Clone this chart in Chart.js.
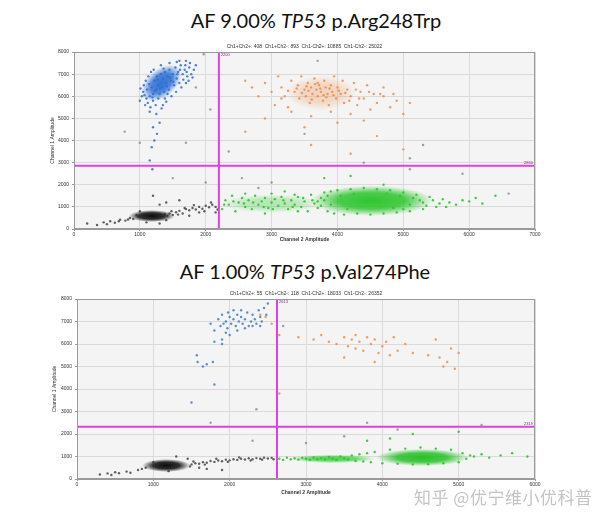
<!DOCTYPE html>
<html>
<head>
<meta charset="utf-8">
<script src="https://cdn.jsdelivr.net/npm/chart.js@4/dist/chart.umd.min.js"></script>
<style>
  body { margin: 0; width: 600px; height: 520px; background: #fff; position: relative; overflow: hidden; }
  .title { position: absolute; width: 400px; text-align: center; font-family: Lato, "Open Sans", sans-serif; font-size: 20px; line-height: 20px; color: #111; white-space: nowrap; }
  canvas { position: absolute; }
  .mark { position: absolute; left: 414px; top: 484px; font-family: "Noto Sans CJK SC", sans-serif; font-size: 17px; color: #c4c4c4; letter-spacing: 0.5px; }
</style>
</head>
<body>
<div class="title" style="left:116px; top:10px;">AF 9.00% <i>TP53</i> p.Arg248Trp</div>
<div class="title" style="left:105px; top:261px;">AF 1.00% <i>TP53</i> p.Val274Phe</div>
<canvas id="af9" width="515" height="205" style="left:30px; top:38px;"></canvas>
<canvas id="af1" width="515" height="210" style="left:30px; top:286px;"></canvas>
<div class="mark">知乎 @优宁维小优科普</div>
<script>
// axis ticks
const yTicks = [0, 1000, 2000, 3000, 4000, 5000, 6000, 7000, 8000];
const af9XTicks = [0, 1000, 2000, 3000, 4000, 5000, 6000, 7000];
const af1XTicks = [0, 1000, 2000, 3000, 4000, 5000, 6000];

// AF 9.00% droplets [Channel 2, Channel 1]
const af9Counts = "Ch1+Ch2+: 408  Ch1+Ch2-: 893  Ch1-Ch2+: 10885  Ch1-Ch2-: 25022";
const af9Thresh = [2200, 2860]; // [channel 2, channel 1]
const af9ThreshLabels = ["2200", "2860"];
const af9BlueCore = [[1330, 6600]];
const af9OrangeCore = [[3750, 6150]];
const af9BlackCore = [[1180, 590]];
const af9GreenCore = [[4520, 1280]];
const af9GreenBand = [[3000, 1150]];
const af9Blue = [[1050,6200],[1100,5900],[1150,6000],[1180,6400],[1200,6100],[1220,6700],[1250,6300],[1260,6900],[1280,6500],[1300,6100],
  [1320,7000],[1340,6400],[1350,6800],[1370,6200],[1380,7100],[1400,6600],[1420,6900],[1440,6300],[1450,7200],[1470,6700],
  [1500,7000],[1520,6500],[1540,7300],[1560,6800],[1580,7100],[1600,6600],[1620,7400],[1650,7000],[1680,7200],[1700,7600],
  [1720,6900],[1750,7300],[1780,7000],[1120,5700],[1160,5500],[1200,5800],[1240,5600],[1280,5900],[1060,6500],[1090,6700],
  [1130,6900],[1170,7100],[1210,7200],[1380,5900],[1420,6100],[1480,6000],[1550,6200],[1630,6400],[1700,6600],[1000,5800],
  [1250,5200],[1300,4800],[1200,4600],[1260,4300],[1220,4000],[1180,3700],[1150,3100],[1190,2700],[1320,7400],[1450,7500],
  [1030,6000],[1080,5600],[1110,6300],[1150,5300],[1600,7600],[1760,7500],[1820,7200],[1350,5600],[1010,6350],[1070,6050],
  [1140,6550],[1190,5950],[1230,6250],[1270,6750],[1310,6350],[1360,7250],[1410,6450],[1460,6850],[1510,6650],[1570,7000],
  [1610,7200],[1660,6750],[1710,7100],[1740,6700],[1800,6850],[1850,7400],[1690,7400],[1560,7550],[1400,5750],[1330,5450]];
const af9Orange = [[2600,6700],[2700,6400],[2800,6000],[2900,6600],[3000,6200],[3050,5600],[3100,6900],[3150,6400],[3200,6000],[3250,5500],
  [3300,6700],[3350,6200],[3400,6500],[3420,5900],[3450,6900],[3500,6300],[3520,6000],[3550,6600],[3580,5700],[3600,6400],
  [3620,6100],[3650,6800],[3680,6300],[3700,6000],[3720,6500],[3750,6200],[3780,5800],[3800,6700],[3820,6400],[3850,6100],
  [3870,5600],[3900,6500],[3920,6200],[3950,6900],[3980,5900],[4000,6400],[4050,6100],[4080,6700],[4100,5700],[4150,6300],
  [4200,6000],[4250,6600],[4300,5600],[4350,6200],[4400,5900],[4450,6500],[4500,5400],[4550,6100],[4600,5700],[4700,6000],
  [4800,5500],[4900,5800],[5000,5200],[4200,5200],[3900,5300],[3600,5100],[4000,4800],[4400,4900],[3500,4600],[5100,5700],
  [4700,6400],[3300,5300],[2600,4400],[3600,3800],[4200,3400],[4600,4200],[5000,3600],[2900,5000],[3700,6600],[3560,6250],
  [3460,6150],[3530,6450],[3610,5850],[3660,6550],[3740,6350],[3790,6050],[3830,5950],[3880,6350],[3940,6050],[4020,6250],
  [4120,6150],[4180,5800],[4280,6300],[4330,5900],[4480,6200],[4650,6100],[3380,6350],[3250,6250],[3150,5900],[4850,6100]];
const af9Black = [[200,250],[350,180],[450,300],[550,350],[620,280],[700,420],[780,380],[850,500],[900,450],[950,620],
  [1450,700],[1500,640],[1550,760],[1600,820],[1650,700],[1700,900],[1750,850],[1800,950],[1850,880],[1900,1000],
  [1950,920],[2000,1050],[2050,980],[2100,1100],[2150,1000],[1300,1100],[1400,1200],[1200,1500],[1600,1300],[1100,300],
  [1300,250],[1000,800],[1400,400],[980,550],[1420,600],[1380,680],[1050,680],[1750,600],[1900,750],[2150,750],
  [500,220],[680,350],[820,430],[1480,800],[1580,650],[1680,950],[1820,1080],[1980,800],[2080,1200],[2180,880]];
const af9Green = [[2250,900],[2300,1300],[2350,1100],[2400,1500],[2450,800],[2500,1200],[2550,1400],[2600,1000],[2650,1300],[2700,900],
  [2750,1500],[2800,1100],[2850,1250],[2900,1400],[2950,950],[3000,1200],[3050,1350],[3100,1050],[3150,1450],[3200,1150],
  [3250,900],[3300,1300],[3350,1100],[3400,1450],[3450,1000],[3500,1250],[3550,800],[3600,1550],[3650,1150],[3700,950],
  [3750,1400],[3800,1650],[3850,800],[3900,1700],[3950,700],[4000,1750],[4100,650],[4200,1800],[4300,700],[4400,1850],
  [4500,650],[4600,1800],[4700,700],[4800,1750],[4900,750],[5000,1650],[5100,800],[5200,1550],[5300,900],[5400,1450],
  [5500,1000],[5600,1350],[5700,1200],[5800,1100],[5900,1300],[6000,1250],[6100,1400],[6200,1150],[3200,1700],[2900,700],
  [5300,1200],[5450,1300],[5550,1150],[3700,1250],[3750,1050],[3800,1300],[3850,1500],[3900,1100],[5100,1100],[5150,1400],
  [5250,1300],[5350,1050],[4050,1500],[4150,900],[4250,1600],[4750,1600],[4850,950],[4950,1500],[4200,2400],[4700,2000],
  [3800,2300],[6400,1500],[3400,800],[3000,1600],[2600,1600],[3350,1550],[5650,1000],[5000,900],[2280,1100],[2420,1250],
  [2580,1150],[2720,1200],[2880,1000],[3020,900],[3180,1300],[3320,1000],[3480,1400],[3620,1300]];
const af9Gray = [[770,4400],[1970,7900],[2070,5400],[1850,6400],[2350,3500],[1700,3900],[2800,1850],[3000,2100],[3500,4300],[1000,3900],
  [2550,2300],[5100,3200],[5900,2500],[2000,2100],[1500,2300],[6600,1600],[3700,7600],[4400,3000],[5100,2700],[5300,3800]];

// AF 1.00% droplets [Channel 2, Channel 1]
const af1Counts = "Ch1+Ch2+: 55  Ch1+Ch2-: 118  Ch1-Ch2+: 18033  Ch1-Ch2-: 26352";
const af1Thresh = [2620, 2320];
const af1ThreshLabels = ["2613", "2319"];
const af1BlackCore = [[1170, 600]];
const af1GreenCore = [[4520, 960]];
const af1GreenBand = [[3350, 900]];
const af1Blue = [[1750,6900],[1800,6600],[1850,7100],[1880,6800],[1900,7300],[1920,6900],[1950,7000],[1970,6700],[2000,7200],[2020,6900],
  [2050,7100],[2080,6800],[2100,7300],[2120,7000],[2150,7200],[2170,6900],[2200,7100],[2230,7400],[2250,6800],[2280,7000],
  [2300,7300],[2330,7100],[2350,6900],[2380,7500],[2400,7200],[2420,7000],[2450,7600],[2480,7300],[2500,7800],[1950,6500],
  [2000,6400],[2100,6600],[2200,6700],[1900,6200],[1800,6100],[2300,6800],[2400,6800],[2050,7500],[1980,7400],[2150,7500],
  [1700,5100],[1780,5200],[1570,5500],[1580,5200],[1650,5000],[1800,4200],[1500,3400],[1900,6000]];
const af1Orange = [[2400,7300],[2470,7200],[2550,6900],[2650,6400],[2900,6300],[3100,6200],[3200,6400],[3300,6100],[3400,6000],[3500,6300],
  [3550,5900],[3600,6200],[3650,5800],[3700,6100],[3750,5700],[3800,6300],[3850,6000],[3900,6200],[3950,5600],[4000,5900],
  [4050,6100],[4100,5500],[4150,6300],[4200,5700],[4300,6000],[4400,5600],[4600,5500],[4700,6200],[4750,5400],[4800,5000],
  [4850,5200],[4900,5800],[4950,4900],[5000,5600],[3500,5400],[3900,5200],[3650,6400],[2650,3800]];
const af1Black = [[300,200],[400,250],[450,180],[500,300],[550,260],[650,330],[700,280],[800,400],[850,450],[900,500],
  [1500,650],[1550,700],[1600,680],[1650,750],[1700,720],[1750,800],[1800,760],[1850,820],[1900,790],[1950,860],
  [2000,830],[2050,880],[2100,850],[2150,900],[2200,870],[2250,920],[2300,880],[2350,930],[2400,900],[2450,950],
  [2500,910],[2550,940],[1600,500],[1700,450],[1900,400],[1450,900],[1300,1000],[1200,350],[1000,750],[1525,780],
  [1675,640],[1825,900],[1975,760],[2125,960],[2275,820],[2425,860],[2575,880],[1480,560]];
const af1Green = [[2650,900],[2700,850],[2750,950],[2800,880],[2850,920],[2900,860],[2950,940],[3000,900],[3050,850],[3100,960],
  [3150,880],[3200,930],[3250,870],[3300,980],[3350,900],[3400,850],[3450,1000],[3500,920],[3550,870],[3600,1050],
  [3650,800],[3700,1100],[3750,780],[3800,1150],[3850,750],[3900,1200],[4000,700],[4100,1300],[4200,680],[4300,1350],
  [4400,650],[4500,1400],[4600,660],[4700,1350],[4800,700],[4900,1300],[5000,750],[5050,1150],[5100,900],[5150,1050],
  [5200,1000],[5300,1100],[5400,950],[5550,1050],[5700,1150],[5900,1000],[4100,1800],[4400,2000],[5000,2100],[3800,1700]];
const af1Gray = [[2700,6800],[3800,2500],[4200,2200],[3500,1900],[3000,1600],[1750,2500],[2300,1700],[5300,2400],[2350,3100]];

// soft elliptical blob used as point style for the dense cluster cores
function blob(w, h, rgb, a) {
  const c = document.createElement("canvas");
  c.width = w; c.height = h;
  const ctx = c.getContext("2d");
  ctx.translate(w / 2, h / 2);
  ctx.scale(w / 2, h / 2);
  const g = ctx.createRadialGradient(0, 0, 0, 0, 0, 1);
  g.addColorStop(0, "rgba(" + rgb + "," + a + ")");
  g.addColorStop(0.55, "rgba(" + rgb + "," + (a * 0.85) + ")");
  g.addColorStop(1, "rgba(" + rgb + ",0)");
  ctx.fillStyle = g;
  ctx.beginPath();
  ctx.arc(0, 0, 1, 0, Math.PI * 2);
  ctx.fill();
  return c;
}

const MAGENTA = "rgb(222,64,226)";

function dots(data, color) {
  return { data: data, backgroundColor: color, borderWidth: 0, pointRadius: 1.2, pointHoverRadius: 1.2 };
}
function core(data, style, rot) {
  return { data: data, pointStyle: style, rotation: rot || 0, pointRadius: 10, backgroundColor: "transparent", borderWidth: 0 };
}
function line(data) {
  return { data: data, showLine: true, borderColor: MAGENTA, borderWidth: 2, pointRadius: 0, fill: false };
}

const plotDecor = {
  id: "plotDecor",
  beforeDraw(chart) {
    const a = chart.chartArea, ctx = chart.ctx;
    ctx.save();
    ctx.fillStyle = "#f4f4f4";
    ctx.fillRect(a.left, a.top, a.right - a.left, a.bottom - a.top);
    ctx.restore();
  },
  afterDraw(chart) {
    const a = chart.chartArea, ctx = chart.ctx, o = chart.options.plugins.plotDecor;
    const x = chart.scales.x, y = chart.scales.y;
    ctx.save();
    ctx.strokeStyle = "#9a9a9a";
    ctx.lineWidth = 1;
    ctx.strokeRect(a.left + 0.5, a.top + 0.5, a.right - a.left - 1, a.bottom - a.top - 1);
    ctx.fillStyle = "#333";
    ctx.font = "5px 'Liberation Sans'";
    ctx.textAlign = "center";
    ctx.textBaseline = "middle";
    ctx.fillText(o.counts, (a.left + a.right) / 2, a.top - 5);
    ctx.textAlign = "left";
    ctx.fillStyle = "#7a2a7a";
    ctx.font = "4px 'Liberation Sans'";
    ctx.fillText(o.labels[0], x.getPixelForValue(o.thresh[0]) + 2, a.top + 3);
    ctx.textAlign = "right";
    ctx.fillText(o.labels[1], a.right - 2, y.getPixelForValue(o.thresh[1]) - 3);
    ctx.restore();
  }
};

function makeChart(id, p) {
  const xMax = p.xTicks[p.xTicks.length - 1], yMax = yTicks[yTicks.length - 1];
  const datasets = [
    line([[0, p.thresh[1]], [xMax, p.thresh[1]]]),
    line([[p.thresh[0], 0], [p.thresh[0], yMax]]),
    dots(p.gray, "rgba(130,130,130,0.75)"),
    dots(p.blue, p.blueColor),
    dots(p.orange, "rgba(236,140,72,0.85)"),
    dots(p.black, "rgba(45,45,45,0.75)"),
    dots(p.green, "rgba(40,200,40,0.9)")
  ].concat(p.cores);
  new Chart(document.getElementById(id), {
    type: "scatter",
    data: { datasets: datasets },
    options: {
      responsive: false,
      animation: false,
      devicePixelRatio: 1,
      layout: { padding: p.pad },
      plugins: {
        legend: { display: false },
        tooltip: { enabled: false },
        plotDecor: { counts: p.counts, thresh: p.thresh, labels: p.labels }
      },
      scales: {
        x: {
          type: "linear", min: 0, max: xMax,
          afterBuildTicks: s => { s.ticks = p.xTicks.map(v => ({ value: v })); },
          afterFit: s => { s.height = p.xH; },
          grid: { color: "#dadada", tickLength: 2, tickColor: "#999" },
          border: { color: "#9a9a9a" },
          ticks: { font: { size: 5, family: "Liberation Sans" }, color: "#333", padding: 1, maxRotation: 0, autoSkip: false, callback: v => String(v) },
          title: { display: true, text: "Channel 2 Amplitude", font: { size: 5, family: "Liberation Sans", weight: "bold" }, color: "#333", padding: 0 }
        },
        y: {
          type: "linear", min: 0, max: yMax,
          afterBuildTicks: s => { s.ticks = yTicks.map(v => ({ value: v })); },
          afterFit: s => { s.width = p.yW; },
          grid: { color: "#dadada", tickLength: 2, tickColor: "#999" },
          border: { color: "#9a9a9a" },
          ticks: { font: { size: 5, family: "Liberation Sans" }, color: "#333", padding: 3, autoSkip: false, callback: v => String(v) },
          title: { display: true, text: "Channel 1 Amplitude", font: { size: 5, family: "Liberation Sans" }, color: "#333", padding: 0 }
        }
      }
    },
    plugins: [plotDecor]
  });
}

makeChart("af9", {
  xTicks: af9XTicks, thresh: af9Thresh, labels: af9ThreshLabels, counts: af9Counts,
  blue: af9Blue, orange: af9Orange, black: af9Black, green: af9Green, gray: af9Gray,
  blueColor: "rgba(40,110,210,0.85)",
  pad: { top: 14, right: 9, left: 20, bottom: 0 }, yW: 24, xH: 14,
  cores: [
    core(af9BlueCore, blob(46, 28, "30,100,210", 0.9), -40),
    core(af9OrangeCore, blob(70, 34, "236,150,90", 0.35)),
    core(af9BlackCore, blob(46, 12, "12,12,12", 1)),
    core(af9GreenCore, blob(122, 30, "35,195,35", 0.95)),
    core(af9GreenBand, blob(100, 18, "60,205,60", 0.35))
  ]
});

makeChart("af1", {
  xTicks: af1XTicks, thresh: af1Thresh, labels: af1ThreshLabels, counts: af1Counts,
  blue: af1Blue, orange: af1Orange, black: af1Black, green: af1Green, gray: af1Gray,
  blueColor: "rgba(60,125,205,0.85)",
  pad: { top: 13, right: 10, left: 22, bottom: 0 }, yW: 25, xH: 17,
  cores: [
    core(af1BlackCore, blob(48, 13, "12,12,12", 1)),
    core(af1GreenCore, blob(92, 17, "30,190,30", 0.95)),
    core(af1GreenBand, blob(84, 8, "40,200,40", 0.8))
  ]
});
</script>
</body>
</html>
